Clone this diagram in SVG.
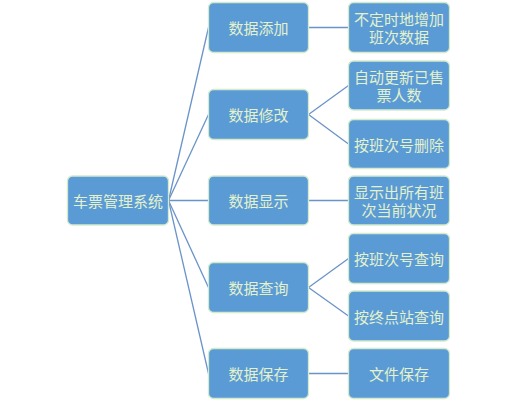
<svg xmlns="http://www.w3.org/2000/svg" width="516" height="401" viewBox="0 0 516 401">
<style>
.box{fill:#5B9BD5;stroke:#D3EBCB;stroke-width:1.3}
.t{font-family:"Noto Sans CJK SC","Liberation Sans",sans-serif;font-size:15px;fill:#E3F2CC;text-anchor:middle;dominant-baseline:central}
.c{stroke:#6A93C8;stroke-width:1.3;fill:none}
</style>
<rect width="516" height="401" fill="#FFFFFF"/>
<g id="connectors">
<line class="c" x1="168.5" y1="200.5" x2="208.5" y2="27.5"/>
<line class="c" x1="168.5" y1="200.5" x2="208.5" y2="114.5"/>
<line class="c" x1="168.5" y1="200.5" x2="208.5" y2="200.5"/>
<line class="c" x1="168.5" y1="200.5" x2="208.5" y2="287.5"/>
<line class="c" x1="168.5" y1="200.5" x2="208.5" y2="373.5"/>
<line class="c" x1="308.5" y1="27.5" x2="348.5" y2="27.5"/>
<line class="c" x1="308.5" y1="114.5" x2="348.5" y2="85.5"/>
<line class="c" x1="308.5" y1="114.5" x2="348.5" y2="144"/>
<line class="c" x1="308.5" y1="200.5" x2="348.5" y2="200.5"/>
<line class="c" x1="308.5" y1="287.5" x2="348.5" y2="258.5"/>
<line class="c" x1="308.5" y1="287.5" x2="348.5" y2="316"/>
<line class="c" x1="308.5" y1="373.5" x2="348.5" y2="373.5"/>
</g>
<g id="root"><rect class="box" x="67.5" y="176" width="101" height="49" rx="5"/><text class="t" x="118" y="200.5">车票管理系统</text></g>
<g id="n1"><rect class="box" x="208.5" y="2.5" width="100" height="50" rx="5"/><text class="t" x="258.5" y="27.5">数据添加</text></g>
<g id="n2"><rect class="box" x="208.5" y="89.5" width="100" height="50" rx="5"/><text class="t" x="258.5" y="114.5">数据修改</text></g>
<g id="n3"><rect class="box" x="208.5" y="176" width="100" height="49" rx="5"/><text class="t" x="258.5" y="200.5">数据显示</text></g>
<g id="n4"><rect class="box" x="208.5" y="262.5" width="100" height="50" rx="5"/><text class="t" x="258.5" y="287.5">数据查询</text></g>
<g id="n5"><rect class="box" x="208.5" y="348.5" width="100" height="50" rx="5"/><text class="t" x="258.5" y="373.5">数据保存</text></g>
<g id="m1"><rect class="box" x="348.5" y="2.5" width="101" height="50" rx="5"/><text class="t" x="399" y="18">不定时地增加</text><text class="t" x="399" y="36">班次数据</text></g>
<g id="m2"><rect class="box" x="348.5" y="61" width="101" height="49" rx="5"/><text class="t" x="399" y="76.5">自动更新已售</text><text class="t" x="399" y="94.5">票人数</text></g>
<g id="m3"><rect class="box" x="348.5" y="119.5" width="101" height="49" rx="5"/><text class="t" x="399" y="144">按班次号删除</text></g>
<g id="m4"><rect class="box" x="348.5" y="176" width="101" height="49" rx="5"/><text class="t" x="399" y="191.5">显示出所有班</text><text class="t" x="399" y="209.5">次当前状况</text></g>
<g id="m5"><rect class="box" x="348.5" y="233.5" width="101" height="50" rx="5"/><text class="t" x="399" y="258.5">按班次号查询</text></g>
<g id="m6"><rect class="box" x="348.5" y="291" width="101" height="50" rx="5"/><text class="t" x="399" y="316">按终点站查询</text></g>
<g id="m7"><rect class="box" x="348.5" y="348.5" width="101" height="50" rx="5"/><text class="t" x="399" y="373.5">文件保存</text></g>
</svg>
